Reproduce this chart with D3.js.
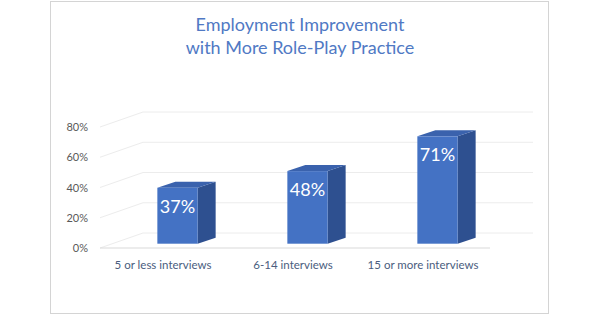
<!DOCTYPE html>
<html>
<head>
<meta charset="utf-8">
<script src="https://cdn.jsdelivr.net/npm/d3@7"></script>
<style>
  body { margin: 0; background: #fff; }
  #chart { width: 600px; height: 315px; }
</style>
</head>
<body>
<div id="chart"></div>
<script>
// Chart data
const categories = ['5 or less interviews', '6-14 interviews', '15 or more interviews'];
const values = [37, 48, 71];
const yTicks = [0, 20, 40, 60, 80];
const titleLines = ['Employment Improvement', 'with More Role-Play Practice'];

const W = 600, H = 315;
const svg = d3.select('#chart').append('svg')
    .attr('width', W)
    .attr('height', H);

// Chart frame
svg.append('rect')
    .attr('x', 50.5).attr('y', 1.5)
    .attr('width', 498).attr('height', 312)
    .attr('fill', '#fff')
    .attr('stroke', '#d4d4d4');

// Title
svg.append('g').selectAll('text')
    .data(titleLines)
    .join('text')
    .attr('x', 300)
    .attr('y', (d, i) => 31 + i * 23)
    .attr('text-anchor', 'middle')
    .attr('font-family', 'Lato, "Open Sans", sans-serif')
    .attr('font-size', 18)
    .attr('fill', '#5079c4')
    .text(d => d);

// Front-plane scales (3D projection with depth offset)
const xScale = d3.scaleBand()
    .domain(categories)
    .range([100, 490])
    .paddingInner(0.69)
    .paddingOuter(0.345);

const yScale = d3.scaleLinear()
    .domain([0, 80])
    .range([248, 127]);

const depth = { dx: 43, dy: -15 };       // back wall offset
const barFront = { dx: 12.5, dy: -4.3 }; // bar front face offset
const barDepth = { dx: 18, dy: -6 };     // bar thickness

// Back wall gridlines
svg.append('g').selectAll('line')
    .data(yTicks)
    .join('line')
    .attr('x1', 100 + depth.dx)
    .attr('x2', 490 + depth.dx)
    .attr('y1', d => yScale(d) + depth.dy)
    .attr('y2', d => yScale(d) + depth.dy)
    .attr('stroke', '#ececec')
    .attr('stroke-width', 1);

// Side wall gridlines
svg.append('g').selectAll('line')
    .data(yTicks)
    .join('line')
    .attr('x1', 100)
    .attr('x2', 100 + depth.dx)
    .attr('y1', d => yScale(d))
    .attr('y2', d => yScale(d) + depth.dy)
    .attr('stroke', '#ececec')
    .attr('stroke-width', 1);

// Floor front edge
svg.append('line')
    .attr('x1', 100).attr('x2', 490)
    .attr('y1', yScale(0)).attr('y2', yScale(0))
    .attr('stroke', '#d9d9d9')
    .attr('stroke-width', 1.2);

// Y axis labels
svg.append('g').selectAll('text')
    .data(yTicks)
    .join('text')
    .attr('x', 88)
    .attr('y', d => yScale(d) + 4)
    .attr('text-anchor', 'end')
    .attr('font-family', 'Lato, "Open Sans", sans-serif')
    .attr('font-size', 11)
    .attr('fill', '#595959')
    .text(d => d + '%');

// Category labels
svg.append('g').selectAll('text')
    .data(categories)
    .join('text')
    .attr('x', d => xScale(d) + xScale.bandwidth() / 2 - 2)
    .attr('y', 269)
    .attr('text-anchor', 'middle')
    .attr('font-family', 'Lato, "Open Sans", sans-serif')
    .attr('font-size', 11.5)
    .attr('fill', '#4a5d7e')
    .text(d => d);

// Bars
const barData = categories.map((c, i) => ({ cat: c, value: values[i] }));
const bw = xScale.bandwidth();

const bars = svg.append('g').selectAll('g')
    .data(barData)
    .join('g');

bars.each(function (d) {
    const g = d3.select(this);
    const x0 = xScale(d.cat) + barFront.dx;
    const x1 = x0 + bw;
    const yb = yScale(0) + barFront.dy;
    const yt = yScale(d.value) + barFront.dy;
    const ox = barDepth.dx, oy = barDepth.dy;

    // side face
    g.append('path')
        .attr('d', `M${x1},${yt}L${x1 + ox},${yt + oy}L${x1 + ox},${yb + oy}L${x1},${yb}Z`)
        .attr('fill', '#2e5090');
    // top face
    g.append('path')
        .attr('d', `M${x0},${yt}L${x0 + ox},${yt + oy}L${x1 + ox},${yt + oy}L${x1},${yt}Z`)
        .attr('fill', '#3a62ad');
    // front face
    g.append('rect')
        .attr('x', x0).attr('y', yt)
        .attr('width', bw).attr('height', yb - yt)
        .attr('fill', '#4472c4');
    // value label
    g.append('text')
        .attr('x', x0 + bw / 2)
        .attr('y', yt + 25)
        .attr('text-anchor', 'middle')
        .attr('font-family', 'Lato, "Open Sans", sans-serif')
        .attr('font-size', 18)
        .attr('fill', '#fff')
        .text(d.value + '%');
});
</script>
</body>
</html>
